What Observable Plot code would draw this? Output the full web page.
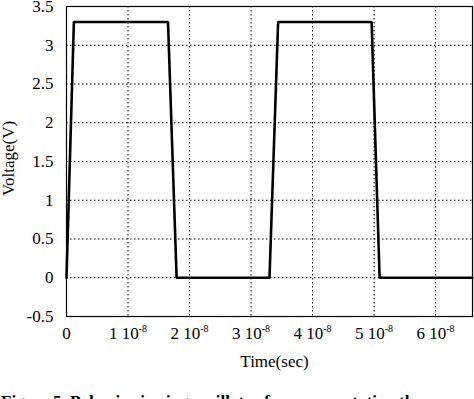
<!DOCTYPE html>
<html>
<head>
<meta charset="utf-8">
<script src="https://cdn.jsdelivr.net/npm/d3@7"></script>
<script src="https://cdn.jsdelivr.net/npm/@observablehq/plot@0.6"></script>
<style>
  html, body { margin: 0; padding: 0; background: #fff; overflow: hidden; }
  #caption { font-family: "Liberation Serif", serif; font-weight: bold; font-size: 17px; margin: 0; padding: 8px 0 0 1px; white-space: nowrap; line-height: 17px; }
</style>
</head>
<body>
<div id="chart"></div>
<div id="caption">Figure 5. Behavior in ring oscillator for representation the</div>
<script>
// Data: time (s) and voltage (V)
const timeSec = [0, 0.12e-8, 1.65e-8, 1.79e-8, 3.30e-8, 3.44e-8, 4.96e-8, 5.09e-8, 6.6e-8];
const voltage = [0, 3.3, 3.3, 0, 0, 3.3, 3.3, 0, 0];

const xTicks = [0, 1e-8, 2e-8, 3e-8, 4e-8, 5e-8, 6e-8];
const xTickMantissa = ["0", "1", "2", "3", "4", "5", "6"];
const xTickExponent = "-8";
const yTicks = [-0.5, 0, 0.5, 1, 1.5, 2, 2.5, 3, 3.5];
const yTickLabels = ["-0.5", "0", "0.5", "1", "1.5", "2", "2.5", "3", "3.5"];
const xLabel = "Time(sec)";
const yLabel = "Voltage(V)";

const data = timeSec.map((t, i) => ({t, v: voltage[i]}));
const dotted = "1.5,2.5";

const plot = Plot.plot({
  width: 474,
  height: 385,
  marginLeft: 66,
  marginRight: 2,
  marginTop: 6,
  marginBottom: 69,
  style: {fontFamily: "Liberation Serif, serif", fontSize: "17px", color: "#000", background: "#fff"},
  x: {domain: [0, 6.6e-8], ticks: xTicks, tickSize: 0, tickPadding: 10, label: null,
      tickFormat: d => { const i = xTicks.findIndex(v => Math.abs(v - d) < 1e-12); return i === 0 ? "0" : xTickMantissa[i] + " 10|" + xTickExponent; }},
  y: {domain: [-0.5, 3.5], ticks: yTicks, tickSize: 0, tickPadding: 13, label: null,
      tickFormat: d => yTickLabels[yTicks.findIndex(v => Math.abs(v - d) < 1e-9)]},
  marks: [
    Plot.gridX(xTicks, {stroke: "#000", strokeOpacity: 1, strokeDasharray: dotted, strokeWidth: 1}),
    Plot.gridY(yTicks, {stroke: "#000", strokeOpacity: 1, strokeDasharray: dotted, strokeWidth: 1}),
    Plot.frame({stroke: "#000", strokeWidth: 1.2}),
    Plot.line(data, {x: "t", y: "v", stroke: "#000", strokeWidth: 2.6, strokeLinejoin: "miter"}),
    Plot.text([xLabel], {frameAnchor: "bottom", dy: 50, dx: 5, text: d => d, fontSize: 17}),
    Plot.text([yLabel], {frameAnchor: "left", textAnchor: "middle", dx: -58, dy: -3, rotate: -90, text: d => d, fontSize: 17})
  ]
});
document.getElementById("chart").appendChild(plot);

// Render exponent as superscript
plot.querySelectorAll('g[aria-label="x-axis tick label"] text').forEach(t => {
  const s = t.textContent;
  if (s.includes("|")) {
    const [base, exp] = s.split("|");
    t.textContent = base;
    const ts = document.createElementNS("http://www.w3.org/2000/svg", "tspan");
    ts.setAttribute("dy", "-7");
    ts.setAttribute("font-size", "10");
    ts.textContent = exp;
    t.appendChild(ts);
  }
});
</script>
</body>
</html>
